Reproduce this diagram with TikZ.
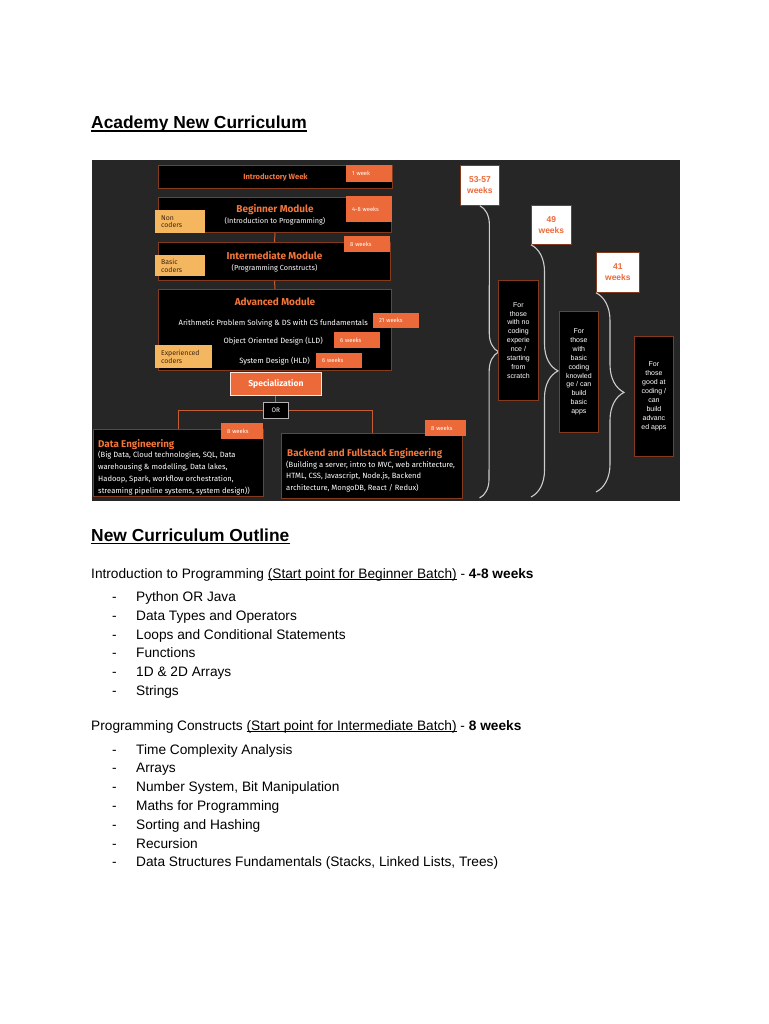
\documentclass[tikz,border=0pt]{standalone}
\usepackage{fontspec}
\setmainfont{Liberation Sans}
\newfontfamily\slidefont{Fira Sans}
\usetikzlibrary{positioning,decorations.pathreplacing}
\definecolor{slidegray}{RGB}{38,38,38}
\definecolor{rustbrown}{RGB}{132,58,30}
\definecolor{burntorange}{RGB}{236,106,58}
\definecolor{titleorange}{RGB}{242,118,58}
\definecolor{sandyellow}{RGB}{245,182,96}
\definecolor{darkcocoa}{RGB}{60,40,20}
\definecolor{linkorange}{RGB}{196,92,52}
\definecolor{bracegray}{RGB}{205,205,205}
\newcommand{\modtitle}[1]{{\color{titleorange}\bfseries\fontsize{10}{11}\selectfont #1}}
\newsavebox\ulinebox
\newcommand{\ulinetext}[1]{\sbox\ulinebox{#1}\rlap{\rule[-2pt]{\wd\ulinebox}{0.8pt}}\usebox\ulinebox}

\begin{document}
\begin{tikzpicture}[x=1pt, y=-1pt,
        modulebox/.style={draw=rustbrown, fill=black, line width=1pt, inner sep=0pt, anchor=north west},
        weektab/.style={fill=burntorange, text=white, anchor=north west, inner xsep=6pt, inner ysep=0pt, minimum width=46pt, text width=34pt, align=left, font=\slidefont\fontsize{5.8}{6}\selectfont},
        levelbox/.style={fill=sandyellow, text=darkcocoa, anchor=north west, inner xsep=6pt, inner ysep=0pt, align=left, font=\slidefont\fontsize{6.9}{7.8}\selectfont},
        totalbox/.style={fill=white, draw=rustbrown, line width=0.8pt, text=burntorange, anchor=north west, inner sep=0pt, align=center, font=\bfseries\fontsize{8.5}{11}\selectfont},
        audiencebox/.style={fill=black, draw=rustbrown, line width=0.8pt, text=white, anchor=north west, inner sep=0pt, align=center, font=\fontsize{7}{8.9}\selectfont},
        slidetext/.style={inner sep=0pt, text=white, font=\slidefont\fontsize{7.6}{12}\selectfont},
        tracktitle/.style={anchor=base west, inner sep=0pt, text=titleorange, font=\slidefont\bfseries\fontsize{9.8}{11}\selectfont},
        link/.style={draw=linkorange, line width=1pt},
        curlybrace/.style={draw=bracegray, line width=1.1pt, decorate, decoration={brace, amplitude=#1}},
        doctext/.style={anchor=base west, inner sep=0pt, font=\fontsize{13.7}{16}\selectfont},
        docheading/.style={anchor=base west, inner sep=0pt, font=\bfseries\fontsize{17.4}{20}\selectfont}]
        \useasboundingbox (0,0) rectangle (768,1024);
        \fill[white] (0,0) rectangle (768,1024);
        % Page title
        \node[docheading] (pagetitle) at (91,128.5) {Academy New Curriculum};
        \draw[line width=1.2pt] ([yshift=-2.6pt]pagetitle.base west) -- ([yshift=-2.6pt]pagetitle.base east);
        % Slide
        \fill[slidegray] (92,160) rectangle (680,501);
        \node[modulebox, minimum width=234pt, minimum height=23pt, text=titleorange, font=\slidefont\bfseries\fontsize{7.6}{9}\selectfont] (intro) at (158,165) {Introductory Week};
        \node[weektab, minimum height=17pt] (introtab) at (346,165) {1 week};
        \node[modulebox, minimum width=233pt, minimum height=35pt, align=center, text=white, font=\slidefont\fontsize{7.3}{11}\selectfont] (beginner) at (158,197) {\modtitle{Beginner Module}\\(Introduction to Programming)};
        \node[weektab, minimum height=26pt] (beginnertab) at (346,196) {4-8 weeks};
        \node[modulebox, minimum width=232pt, minimum height=38pt, align=center, text=white, font=\slidefont\fontsize{7.3}{11}\selectfont] (inter) at (158,242) {\modtitle{Intermediate Module}\\(Programming Constructs)};
        \node[weektab, minimum height=16pt] (intertab) at (344,236) {8 weeks};
        \node[modulebox, minimum width=233pt, minimum height=81pt] (adv) at (158,289) {};
        \node[slidetext, text=titleorange, font=\slidefont\bfseries\fontsize{10}{11}\selectfont] (advtitle) at (275,302) {Advanced Module};
        \node[slidetext, anchor=base east] (advps) at (368,325) {Arithmetic Problem Solving \& DS with CS fundamentals};
        \node[weektab, minimum height=15pt] (advpstab) at (373,313) {21 weeks};
        \node[slidetext, anchor=base east] (advlld) at (323,343) {Object Oriented Design (LLD)};
        \node[weektab, minimum height=16pt] (advlldtab) at (334,332) {6 weeks};
        \node[slidetext, anchor=base east] (advhld) at (310,363) {System Design (HLD)};
        \node[weektab, minimum height=15pt] (advhldtab) at (316,353) {6 weeks};
        % Entry levels
        \node[levelbox, minimum width=50pt, minimum height=23pt, text width=38pt] (noncoders) at (155,210) {Non\\coders};
        \node[levelbox, minimum width=50pt, minimum height=21pt, text width=38pt] (basiccoders) at (155,255) {Basic\\coders};
        \node[levelbox, minimum width=57pt, minimum height=23pt, text width=45pt] (expcoders) at (155,345) {Experienced\\coders};
        % Specialization
        \node[draw=white!85!burntorange, fill=burntorange, line width=0.8pt, anchor=north west, minimum width=91pt, minimum height=23pt, inner sep=0pt, text=white, font=\slidefont\bfseries\fontsize{8.6}{10}\selectfont] (special) at (230,372) {Specialization};
        \node[draw=white!70!black, fill=black, line width=0.8pt, anchor=north west, minimum width=25pt, minimum height=16pt, inner sep=0pt, text=white, font=\slidefont\fontsize{6.5}{8}\selectfont] (orbox) at (263,402) {OR};
        \node[modulebox, minimum width=170pt, minimum height=67pt] (dataeng) at (93,429) {};
        \node[weektab, minimum height=16pt, minimum width=42pt, text width=30pt] (dataengtab) at (221,423) {8 weeks};
        \node[tracktitle] (dataengtitle) at (98,447) {Data Engineering};
        \node[slidetext, anchor=north west, align=left] (dataengbody) at (98,450.5) {(Big Data, Cloud technologies, SQL, Data\\warehousing \& modelling, Data lakes,\\Hadoop, Spark, workflow orchestration,\\streaming pipeline systems, system design))};
        \node[modulebox, minimum width=181pt, minimum height=65pt] (backend) at (281,433) {};
        \node[weektab, minimum height=16pt, minimum width=41pt, text width=29pt] (backendtab) at (425,420) {8 weeks};
        \node[tracktitle] (backendtitle) at (287,456) {Backend and Fullstack Engineering};
        \node[slidetext, anchor=north west, align=left, font=\slidefont\fontsize{7.6}{11.5}\selectfont] (backendbody) at (286,460.5) {(Building a server, intro to MVC, web architecture,\\HTML, CSS, Javascript, Node.js, Backend\\architecture, MongoDB, React / Redux)};
        % Links
        \draw[link] (beginner.south) -- (inter.north);
        \draw[link] (inter.south) -- (adv.north);
        \draw[link] (special.south) -- (orbox.north);
        \draw[link] (orbox.west) -| (dataeng.north);
        \draw[link] (orbox.east) -| (backend.north);
        % Totals and braces
        \node[totalbox, minimum width=39pt, minimum height=40pt] (total53) at (460,165) {53-57\\weeks};
        \node[totalbox, minimum width=40pt, minimum height=39pt] (total49) at (531,205) {49\\weeks};
        \node[totalbox, minimum width=43pt, minimum height=40pt] (total41) at (596,252) {41\\weeks};
        \coordinate (brace53end) at (479.5,498);
        \coordinate (brace49end) at (531,497);
        \coordinate (brace41end) at (596,492);
        \draw[curlybrace=19pt] (total53.south) -- (brace53end);
        \draw[curlybrace=27pt] (total49.south west) -- (brace49end);
        \draw[curlybrace=28pt] (total41.south west) -- (brace41end);
        \node[audiencebox, minimum width=40pt, minimum height=120pt] (nocoding) at (498,280) {For\\those\\with no\\coding\\experie\\nce /\\starting\\from\\scratch};
        \node[audiencebox, minimum width=39pt, minimum height=121pt] (basiccoding) at (559,311) {For\\those\\with\\basic\\coding\\knowled\\ge / can\\build\\basic\\apps};
        \node[audiencebox, minimum width=39pt, minimum height=120pt] (goodcoding) at (634,336) {For\\those\\good at\\coding /\\can\\build\\advanc\\ed apps};
        % Outline
        \node[docheading] (outlinetitle) at (91,541) {New Curriculum Outline};
        \draw[line width=1.2pt] ([yshift=-2.6pt]outlinetitle.base west) -- ([yshift=-2.6pt]outlinetitle.base east);
        \node[doctext] (introprog) at (91,578) {Introduction to Programming \ulinetext{(Start point for Beginner Batch)} - \textbf{4-8 weeks}};
        \foreach \topic [count=\i] in {Python OR Java, Data Types and Operators, Loops and Conditional Statements, Functions, 1D \& 2D Arrays, Strings} {
          \node[doctext] (introdash\i) at (112, {583.1+18.7*\i}) {-};
          \node[doctext] (introtopic\i) at (136, {583.1+18.7*\i}) {\topic};
        }
        \node[doctext] (constructs) at (91,730) {Programming Constructs \ulinetext{(Start point for Intermediate Batch)} - \textbf{8 weeks}};
        \foreach \topic [count=\i] in {Time Complexity Analysis, Arrays, {Number System, Bit Manipulation}, Maths for Programming, Sorting and Hashing, Recursion, {Data Structures Fundamentals (Stacks, Linked Lists, Trees)}} {
          \node[doctext] (constructdash\i) at (112, {735.2+18.8*\i}) {-};
          \node[doctext] (constructtopic\i) at (136, {735.2+18.8*\i}) {\topic};
        }
\end{tikzpicture}
\end{document}
